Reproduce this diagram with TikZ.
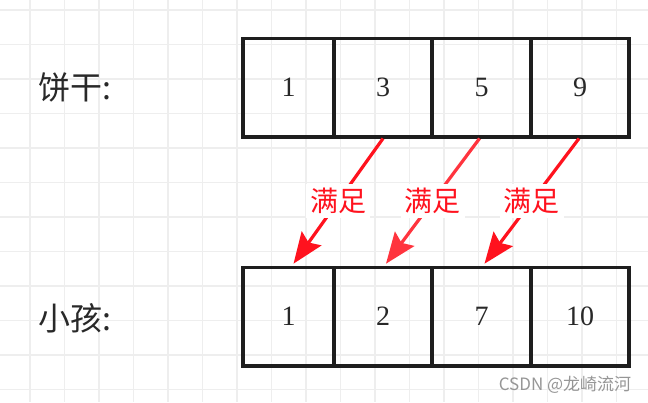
\documentclass[tikz,border=0pt]{standalone}
\usepackage{fontspec}
\setmainfont{Liberation Serif}
\newfontfamily\cjk{Noto Sans CJK SC}
\usetikzlibrary{arrows.meta}
\definecolor{gridc}{RGB}{238,238,238}
\definecolor{boxc}{RGB}{30,30,30}
\definecolor{arrc}{RGB}{255,18,30}
\definecolor{arrb}{RGB}{255,52,62}
\definecolor{wmc}{RGB}{150,150,150}
\definecolor{txtc}{RGB}{40,40,40}
\tikzset{
  cell/.style={draw=boxc, line width=3.5pt, minimum height=98.5pt, inner sep=0pt, font=\fontsize{28}{28}\selectfont, text=txtc},
  rowlabel/.style={font=\cjk\fontsize{32}{32}\selectfont, text=txtc, inner sep=0pt},
  sat/.style={-{Stealth[length=31pt,width=24pt,inset=5pt]}, line width=3.2pt, draw=arrc},
  satlabel/.style={font=\cjk\fontsize{28}{28}\selectfont, text=arrc, fill=white, inner sep=4pt, midway},
}
\begin{document}
\begin{tikzpicture}[x=1pt,y=-1pt]
\useasboundingbox (0,0) rectangle (648,402);
\fill[white] (0,0) rectangle (648,402);
% grid
\foreach \i in {0,...,18} {\draw[gridc, line width=1.2pt] ({30+34.5*\i},0) -- ({30+34.5*\i},402);}
\foreach \j in {0,...,11} {\draw[gridc, line width=1.2pt] (0,{10+34.5*\j}) -- (648,{10+34.5*\j});}
% labels
\node[rowlabel] (lb) at (75,87) {饼干:};
\node[rowlabel] (lk) at (75,318) {小孩:};
% top row
\node[cell, minimum width=91pt] (t1) at (288.5,87.5) {1};
\node[cell, minimum width=98pt] (t2) at (383,87.5) {3};
\node[cell, minimum width=99pt] (t3) at (481.5,87.5) {5};
\node[cell, minimum width=98pt] (t4) at (580,87.5) {9};
% bottom row
\node[cell, minimum width=91pt] (k1) at (288.5,316.7) {1};
\node[cell, minimum width=98pt] (k2) at (383,316.7) {2};
\node[cell, minimum width=99pt] (k3) at (481.5,316.7) {7};
\node[cell, minimum width=98pt] (k4) at (580,316.7) {10};
% arrows
\draw[sat] (t2.south) -- ([xshift=5pt,yshift=2pt]k1.north) node[satlabel] (m1) {满足};
\draw[sat, draw=arrb] ([xshift=-2pt]t3.south) -- ([xshift=3pt,yshift=2pt]k2.north) node[satlabel] (m2) {满足};
\draw[sat] ([xshift=-1pt]t4.south) -- ([xshift=3pt,yshift=2pt]k3.north) node[satlabel] (m3) {满足};
% watermark
\node[font=\cjk\fontsize{17}{17}\selectfont, text=wmc, inner sep=0pt] (wm) at (565,385) {CSDN @龙崎流河};
\end{tikzpicture}
\end{document}
